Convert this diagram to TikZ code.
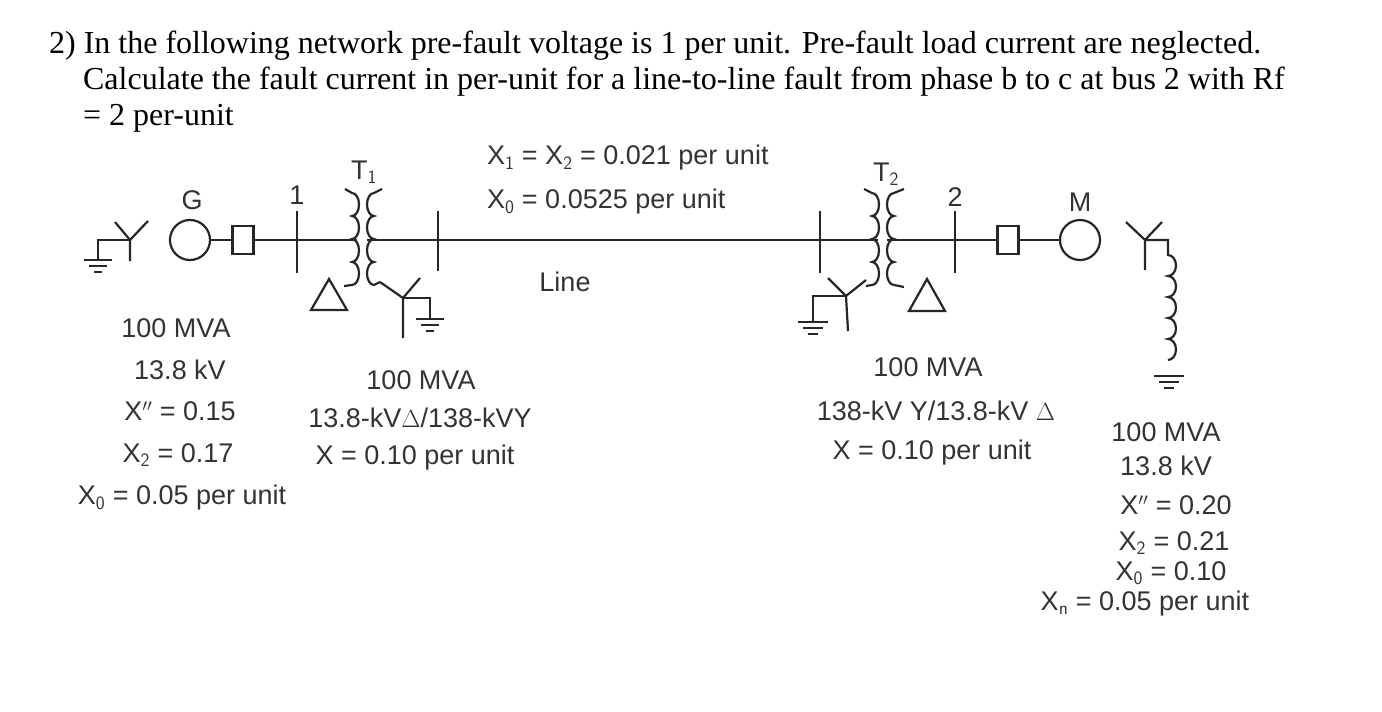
\documentclass[tikz,border=0pt]{standalone}
\usepackage{fontspec}
\setmainfont{Liberation Serif}
\newfontfamily\figf{Liberation Sans}
\begin{document}
\begin{tikzpicture}[x=1pt,y=-1pt,line width=2.2pt,
  ink/.style={draw=black!85},
  lbl/.style={font=\figf\fontsize{27}{30}\selectfont,text=black!80,inner sep=0pt},
  ttl/.style={font=\fontsize{32}{34}\selectfont,anchor=west,inner sep=0pt},
  mach/.style={circle,draw=black!85,line width=2.2pt,minimum size=40pt,inner sep=0pt},
  brk/.style={rectangle,draw=black!85,line width=2.2pt,minimum width=21pt,minimum height=28pt,inner sep=0pt},
  gnd/.style={line width=2pt},
  bl/.style={x radius=7,y radius=11.5},
  bm/.style={x radius=8,y radius=10.5}]
\useasboundingbox (0,0) rectangle (1382,712);
% title
\node[ttl] (t1) at (48,46) {2) In the following network pre-fault voltage is 1 per unit. Pre-fault load current are neglected.};
\node[ttl] (t2) at (82,82) {Calculate the fault current in per-unit for a line-to-line fault from phase b to c at bus 2 with Rf};
\node[ttl] (t3) at (82,118) {= 2 per-unit};
\begin{scope}[yshift=7pt]
% generator Y + ground
\coordinate (gy) at (130,247);
\draw[ink] (115,229) -- (gy) -- (148,228) (gy) -- (130,268);
\draw[ink] (gy) -- (98,247) -- (98,266);
\draw[ink,gnd] (84,267)--(112,267) (89,273)--(107,273) (94,279)--(102,279);
% generator, breaker, bus 1
\node[mach] (G) at (190,247) {};
\node[brk] (B1) at (243,247) {};
\draw[ink] (G) -- (B1);
\coordinate (bus1) at (297,247);
\draw[ink] (297,218) -- (297,280);
\draw[ink] (B1) -- (bus1) -- (357,247);
% T1 coils
\draw[ink] (345,196) -- (352,200)
  arc[start angle=-90,end angle=90,bl]
  arc[start angle=-90,end angle=90,bl]
  arc[start angle=-90,end angle=90,bl]
  arc[start angle=-90,end angle=90,bl] -- (344,293);
\draw[ink] (382,196) -- (374,200)
  arc[start angle=270,end angle=90,bl]
  arc[start angle=270,end angle=90,bl]
  arc[start angle=270,end angle=90,bl]
  arc[start angle=270,end angle=90,bl] -- (380,289);
\draw[ink] (311,317) -- (329,286) -- (347,317) -- cycle;
% T1 wye-ground
\coordinate (t1y) at (403,305);
\draw[ink] (380,289) -- (t1y) -- (420,285) (t1y) -- (403,345);
\draw[ink] (t1y) -- (430,305) -- (430,325);
\draw[ink,gnd] (416,326)--(444,326) (421,332)--(439,332) (426,338)--(434,338);
% line
\coordinate (busA) at (438,247);
\coordinate (busB) at (820,247);
\draw[ink] (438,218) -- (438,278) (820,218) -- (820,280);
\draw[ink] (367,247) -- (busA) -- (busB) -- (878,247);
% T2 coils
\draw[ink] (864,196) -- (872,200)
  arc[start angle=-90,end angle=90,bl]
  arc[start angle=-90,end angle=90,bl]
  arc[start angle=-90,end angle=90,bl]
  arc[start angle=-90,end angle=90,bl] -- (866,293);
\draw[ink] (904,196) -- (894,200)
  arc[start angle=270,end angle=90,bl]
  arc[start angle=270,end angle=90,bl]
  arc[start angle=270,end angle=90,bl]
  arc[start angle=270,end angle=90,bl] -- (904,294);
\draw[ink] (909,318) -- (927,286) -- (945,318) -- cycle;
% T2 wye-ground
\coordinate (t2y) at (846,303);
\draw[ink] (828,285) -- (t2y) -- (866,287) (t2y) -- (848,338);
\draw[ink] (t2y) -- (813,303) -- (813,328);
\draw[ink,gnd] (798,329)--(828,329) (803,335)--(823,335) (808,341)--(818,341);
% bus 2, breaker, motor
\coordinate (bus2) at (955,247);
\draw[ink] (955,218) -- (955,280);
\node[brk] (B2) at (1008,247) {};
\node[mach] (M) at (1080,247) {};
\draw[ink] (887,247) -- (bus2) -- (B2) -- (M);
% motor wye + neutral reactor
\coordinate (my) at (1145,247);
\draw[ink] (1126,229) -- (my) -- (1162,229) (my) -- (1145,277);
\draw[ink] (my) -- (1168,247) -- (1168,262)
  arc[start angle=-90,end angle=90,bm]
  arc[start angle=-90,end angle=90,bm]
  arc[start angle=-90,end angle=90,bm]
  arc[start angle=-90,end angle=90,bm]
  arc[start angle=-90,end angle=90,bm];
\draw[ink,gnd] (1154,383)--(1184,383) (1159,389)--(1179,389) (1164,395)--(1174,395);
\end{scope}
% labels
\node[lbl] (lG) at (192,200) {G};
\node[lbl] (l1) at (297,195) {1};
\node[lbl] (lT1) at (364,172) {T$_{\mathsf 1}$};
\node[lbl] (lT2) at (886,174) {T$_{\mathsf 2}$};
\node[lbl] (l2) at (955,197) {2};
\node[lbl] (lM) at (1080,202) {M};
\node[lbl,anchor=west] (lx1) at (486,158) {X$_{\mathsf 1}$ = X$_{\mathsf 2}$ = 0.021 per unit};
\node[lbl,anchor=west] (lx0) at (486,202) {X$_{\mathsf 0}$ = 0.0525 per unit};
\node[lbl] (lline) at (565,282) {Line};
\node[lbl] (g1) at (176,328) {100 MVA};
\node[lbl] (g2) at (180,370) {13.8 kV};
\node[lbl] (g3) at (180,411) {X$''$ = 0.15};
\node[lbl] (g4) at (178,455) {X$_{\mathsf 2}$ = 0.17};
\node[lbl] (g5) at (182,498) {X$_{\mathsf 0}$ = 0.05 per unit};
\node[lbl] (a1) at (421,380) {100 MVA};
\node[lbl] (a2) at (420,418) {13.8-kV$\Delta$/138-kVY};
\node[lbl] (a3) at (415,458) {X = 0.10 per unit};
\node[lbl] (b1) at (928,367) {100 MVA};
\node[lbl] (b2) at (936,411) {138-kV Y/13.8-kV $\Delta$};
\node[lbl] (b3) at (932,453) {X = 0.10 per unit};
\node[lbl] (m1) at (1166,432) {100 MVA};
\node[lbl] (m2) at (1166,466) {13.8 kV};
\node[lbl] (m3) at (1176,505) {X$''$ = 0.20};
\node[lbl] (m4) at (1174,543) {X$_{\mathsf 2}$ = 0.21};
\node[lbl] (m5) at (1171,573) {X$_{\mathsf 0}$ = 0.10};
\node[lbl] (m6) at (1145,604) {X$_{\mathsf n}$ = 0.05 per unit};
\end{tikzpicture}
\end{document}
